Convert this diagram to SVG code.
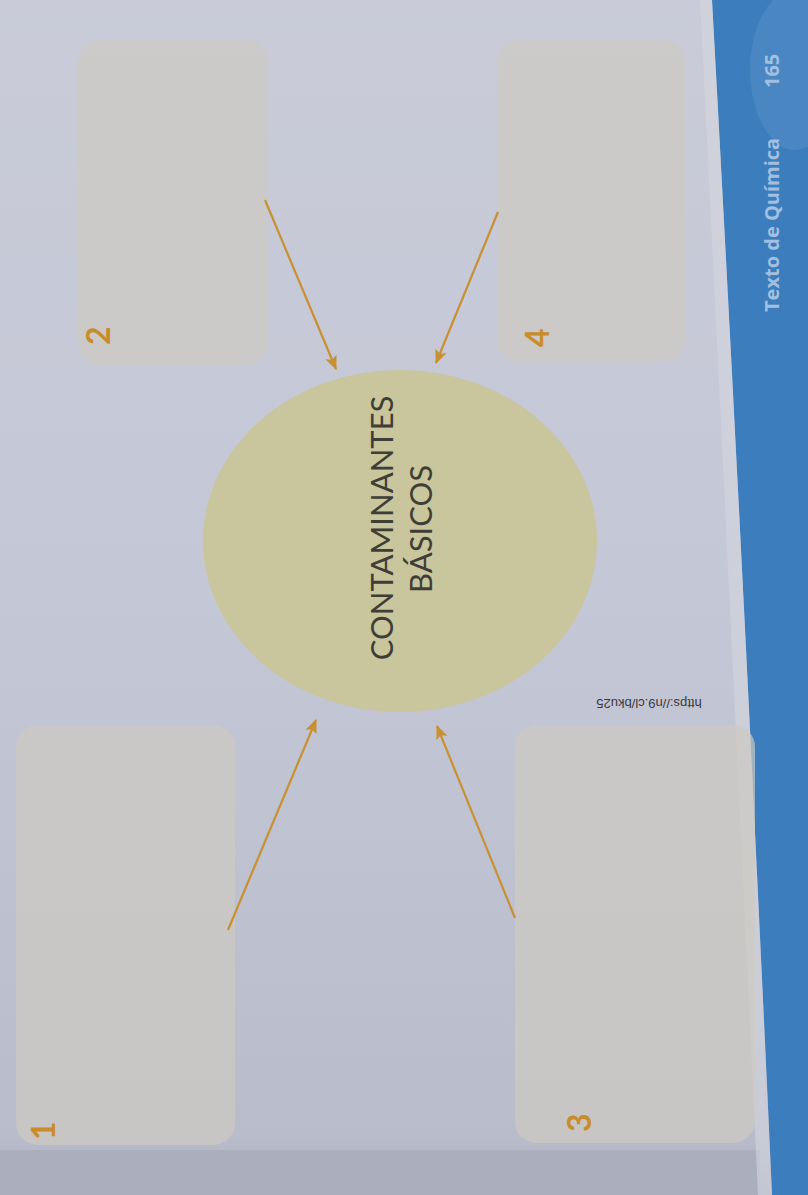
<svg xmlns="http://www.w3.org/2000/svg" width="808" height="1195" viewBox="0 0 808 1195">
<defs>
<linearGradient id="bg" x1="0" y1="0" x2="0" y2="1">
<stop offset="0" stop-color="#c9cbd8"/>
<stop offset="0.5" stop-color="#c4c7d6"/>
<stop offset="0.95" stop-color="#b9bccb"/>
<stop offset="1" stop-color="#abafbe"/>
</linearGradient>
<marker id="ah" viewBox="0 0 14 12" refX="13" refY="6" markerWidth="14" markerHeight="12" orient="auto" markerUnits="userSpaceOnUse">
<path d="M0,0 L14,6 L0,12 L3,6 z" fill="#c8902f"/>
</marker>
<style>
.box{fill:#cdcbc2;opacity:0.7}
.num{font-family:"Lato","Open Sans",sans-serif;font-weight:700;fill:#c98c2a;font-size:32px}
.arr{stroke:#c8902f;stroke-width:2.2;fill:none}
.main{font-family:"Lato","Open Sans",sans-serif;fill:#3f3e36;font-size:31px}
</style>
</defs>
<rect x="0" y="0" width="808" height="1195" fill="url(#bg)"/>
<rect x="0" y="1150" width="760" height="45" fill="#aaaebd"/>
<path d="M712,0 L808,0 L808,1195 L772,1195 Q745,600 712,0 z" fill="#3b7dbd"/>
<path d="M700,0 L712,0 Q745,600 772,1195 L758,1195 Q730,600 700,0 z" fill="#d4d6de" opacity="0.6"/>
<ellipse cx="795" cy="70" rx="45" ry="80" fill="#5a93c8" opacity="0.45"/>
<g id="strip-text" font-family="Open Sans,sans-serif" font-weight="700" fill="#a2bfdf" font-size="20">
<text transform="translate(779,312) rotate(-90)">Texto de Química</text>
<text transform="translate(779,88) rotate(-90)">165</text>
</g>
<g id="node1"><rect class="box" x="16" y="725" width="219" height="420" rx="22"/>
<text class="num" transform="translate(55,1140) rotate(-90)">1</text></g>
<g id="node2"><rect class="box" x="78" y="40" width="190" height="325" rx="22"/>
<text class="num" transform="translate(110,345) rotate(-90)">2</text></g>
<g id="node3"><rect class="box" x="515" y="725" width="240" height="418" rx="22"/>
<text class="num" transform="translate(591,1132) rotate(-90)">3</text></g>
<g id="node4"><rect class="box" x="497" y="40" width="188" height="322" rx="22"/>
<text class="num" transform="translate(549,347) rotate(-90)">4</text></g>
<g id="center">
<ellipse cx="400" cy="541" rx="197" ry="171" fill="#c9c59c"/>
<text class="main" text-anchor="middle" transform="translate(393,528) rotate(-90)">CONTAMINANTES</text>
<text class="main" text-anchor="middle" transform="translate(432,529) rotate(-90)">BÁSICOS</text>
</g>
<text font-family="Liberation Sans,sans-serif" font-size="13" fill="#3a3a3e" text-anchor="middle" transform="translate(649,699) rotate(180)">https://n9.cl/bku25</text>
<g id="connectors">
<line class="arr" x1="265" y1="200" x2="336" y2="369" marker-end="url(#ah)"/>
<line class="arr" x1="498" y1="212" x2="436" y2="363" marker-end="url(#ah)"/>
<line class="arr" x1="228" y1="930" x2="316" y2="720" marker-end="url(#ah)"/>
<line class="arr" x1="515" y1="918" x2="437" y2="726" marker-end="url(#ah)"/>
</g>
</svg>
